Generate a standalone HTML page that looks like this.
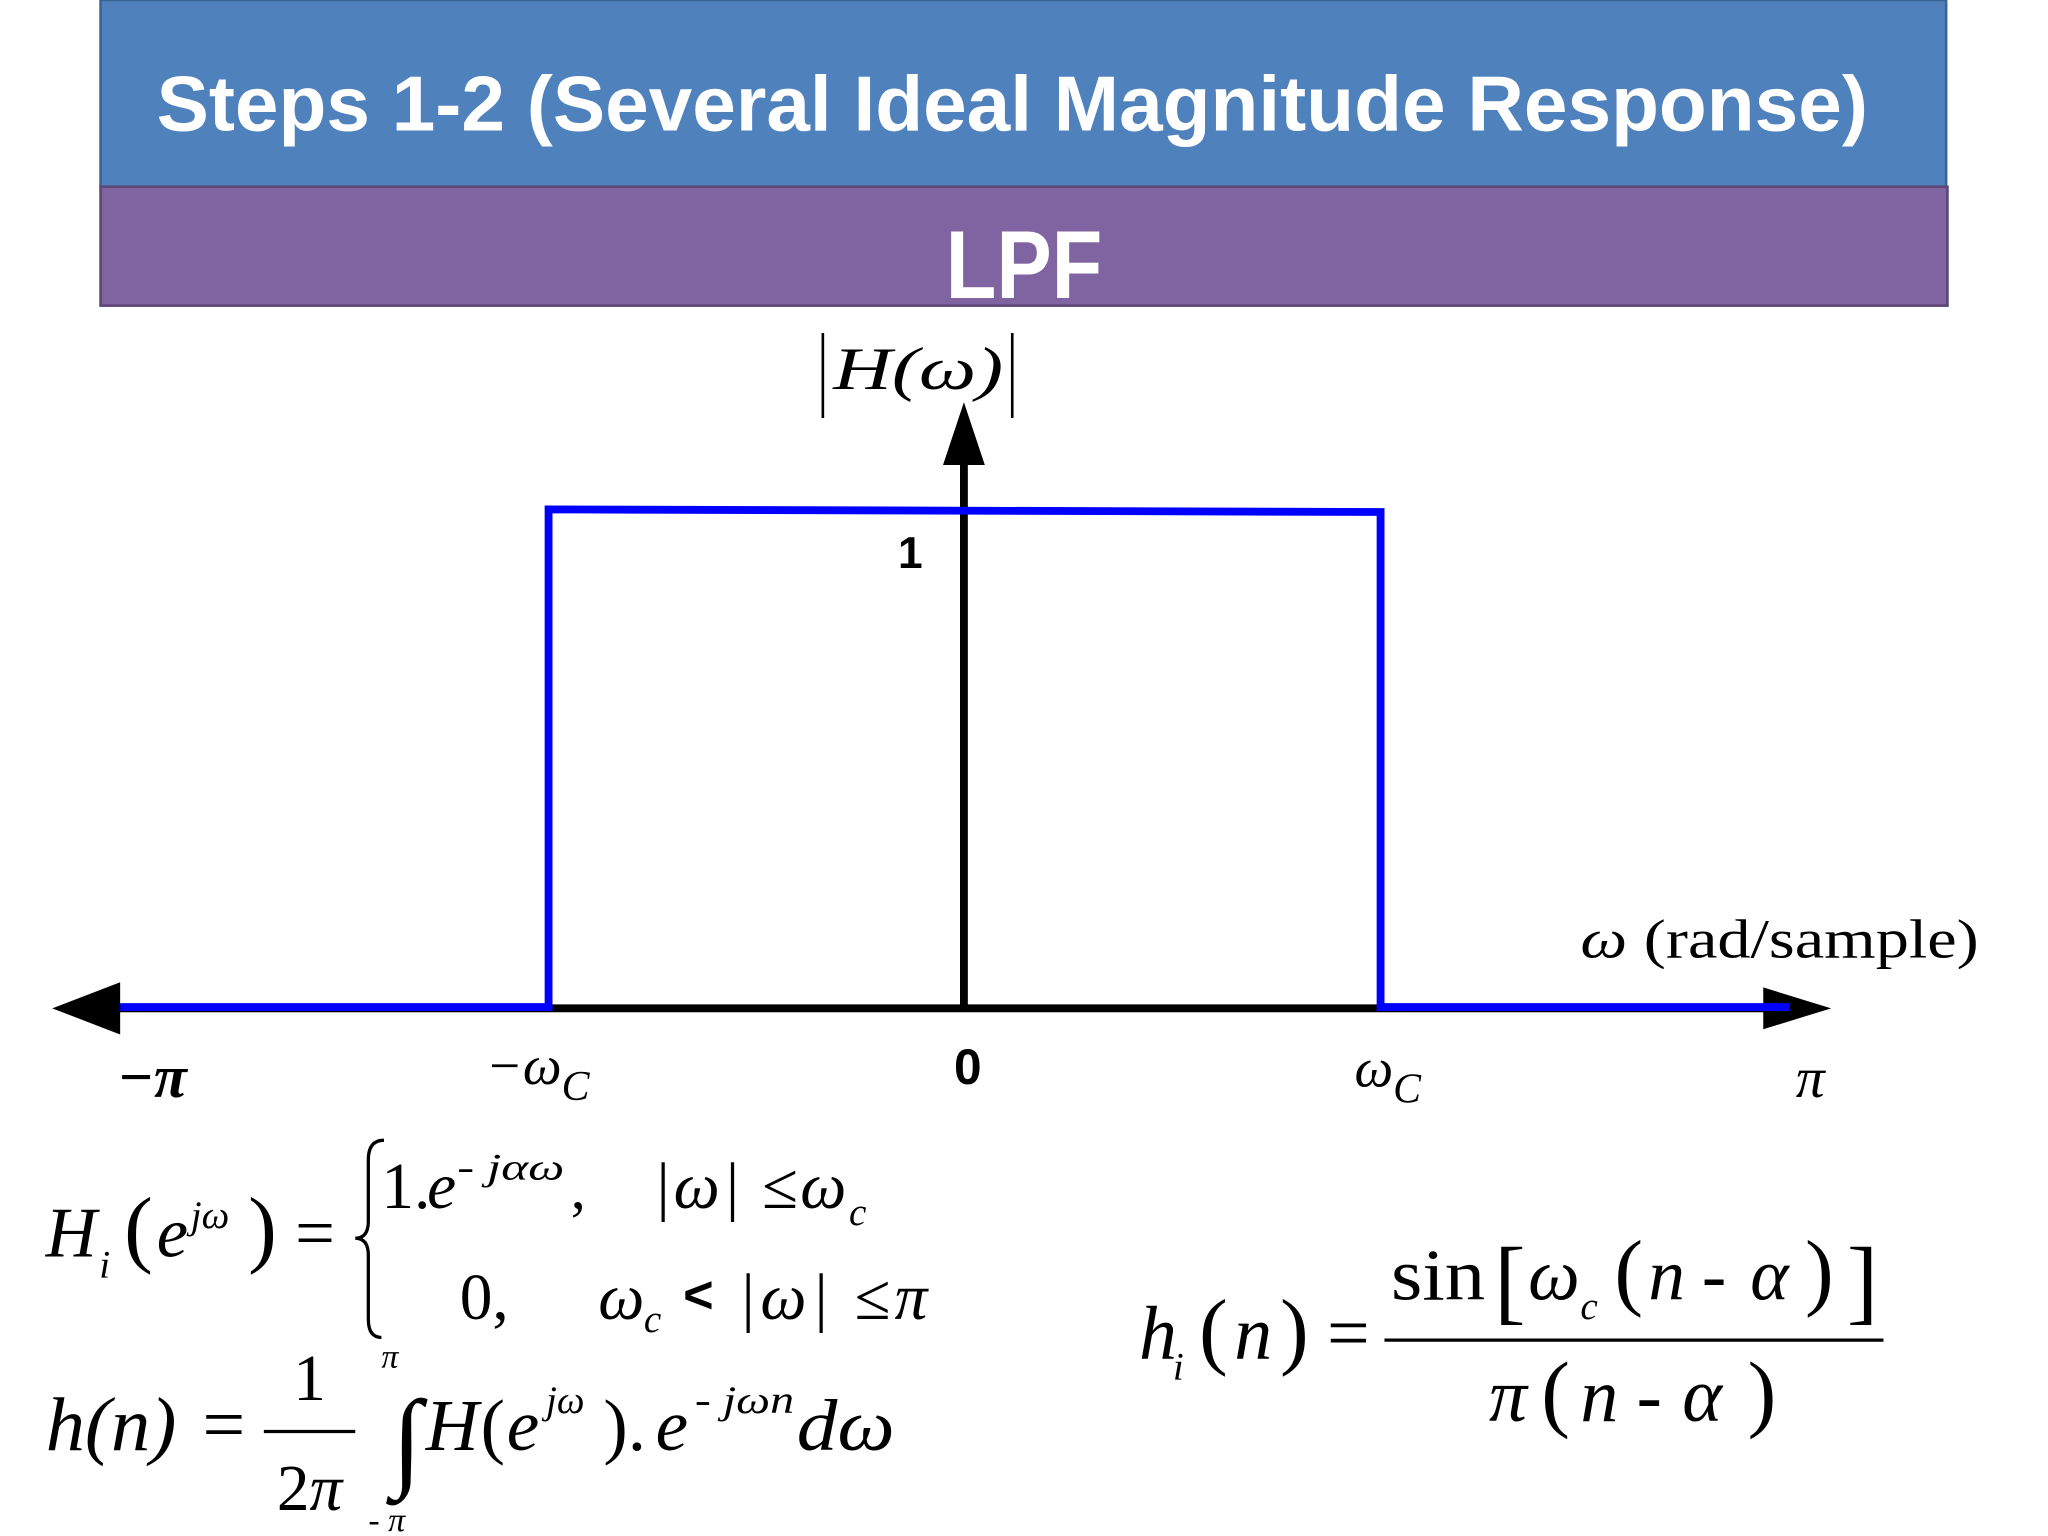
<!DOCTYPE html>
<html><head><meta charset="utf-8"><style>
html,body{margin:0;padding:0;background:#fff;}
svg{display:block;}
.m{font-family:"Liberation Serif",serif;font-style:italic;}
.r{font-family:"Liberation Serif",serif;}
</style></head><body>
<svg width="2048" height="1536" viewBox="0 0 1568 1176" xmlns="http://www.w3.org/2000/svg">
<defs><clipPath id="c"><rect x="77" y="143" width="1414" height="91"/></clipPath></defs>
<rect x="77" y="0" width="1413" height="143" fill="#4f81bd" stroke="#3a6496" stroke-width="2"/>
<text x="775" y="100" text-anchor="middle" fill="#fff" font-family="Liberation Sans,sans-serif" font-weight="bold" font-size="60">Steps 1-2 (Several Ideal Magnitude Response)</text>
<rect x="77" y="143" width="1414" height="91" fill="#8064a2" stroke="#5c4776" stroke-width="2"/>
<g clip-path="url(#c)"><text x="784" y="228" text-anchor="middle" fill="#fff" font-family="Liberation Sans,sans-serif" font-weight="bold" font-size="74" textLength="120" lengthAdjust="spacingAndGlyphs">LPF</text></g>

<line x1="80" y1="772" x2="1370" y2="772" stroke="#000" stroke-width="6"/>
<polygon points="40,772 92,752 92,792" fill="#000"/>
<polygon points="1402,772 1350,756 1350,788" fill="#000"/>
<line x1="738" y1="772" x2="738" y2="340" stroke="#000" stroke-width="6"/>
<polygon points="738,308 722,356 754,356" fill="#000"/>
<polyline points="92,771 420,771 420,390 1057,392 1057,771 1370,771" fill="none" stroke="#0000ff" stroke-width="6"/>

<line x1="630" y1="255" x2="630" y2="320" stroke="#000" stroke-width="2"/>
<line x1="775" y1="255" x2="775" y2="320" stroke="#000" stroke-width="2"/>
<text x="638" y="298" class="m" font-size="46" textLength="130" lengthAdjust="spacingAndGlyphs">H(ω)</text>
<text x="697" y="435" text-anchor="middle" font-family="Liberation Sans,sans-serif" font-weight="bold" font-size="34">1</text>
<text x="741" y="830" text-anchor="middle" font-family="Liberation Sans,sans-serif" font-weight="bold" font-size="38">0</text>
<text x="90" y="840" class="m" font-size="46" font-weight="bold">−π</text>
<text x="372" y="830" class="m" font-size="42">−ω<tspan font-size="32" dy="12">C</tspan></text>
<text x="1037" y="832" class="m" font-size="42">ω<tspan font-size="32" dy="12">C</tspan></text>
<text x="1375" y="840" class="m" font-size="44">π</text>
<text x="1210" y="733" class="r" font-size="42" textLength="305" lengthAdjust="spacingAndGlyphs"><tspan class="m">ω</tspan> (rad/sample)</text>

<text x="35" y="962" class="m" font-size="54">H</text>
<text x="76" y="978" class="m" font-size="30">i</text>
<text x="95" y="962" class="r" font-size="66">(</text>
<text x="120" y="962" class="m" font-size="54">e</text>
<text x="146" y="940" class="m" font-size="30">jω</text>
<text x="190" y="962" class="r" font-size="66">)</text>
<text x="226" y="962" class="r" font-size="54">=</text>
<path d="M294,873 Q282,873 282,888 L282,935 Q282,948 272,948 Q282,948 282,961 L282,1010 Q282,1024 292,1024" fill="none" stroke="#000" stroke-width="2.5"/>
<text x="292" y="925" class="r" font-size="50">1.</text>
<text x="327" y="925" class="m" font-size="50">e</text>
<text x="350" y="903" class="m" font-size="28" textLength="82" lengthAdjust="spacingAndGlyphs">- jαω</text>
<text x="437" y="925" class="r" font-size="46">,</text>
<text x="500" y="925" class="m" font-size="50" textLength="148" lengthAdjust="spacing">|ω| ≤ω</text>
<text x="650" y="938" class="m" font-size="30">c</text>
<text x="352" y="1010" class="r" font-size="50">0,</text>
<text x="458" y="1010" class="m" font-size="50">ω</text>
<text x="493" y="1020" class="m" font-size="30">c</text>
<text x="523" y="1005" font-family="Liberation Sans,sans-serif" font-weight="bold" font-size="40">&lt;</text>
<text x="565" y="1010" class="m" font-size="50" textLength="145" lengthAdjust="spacing">|ω| ≤π</text>

<text x="35" y="1110" class="m" font-size="58" textLength="100" lengthAdjust="spacingAndGlyphs">h(n)</text>
<text x="155" y="1110" class="r" font-size="58">=</text>
<text x="237" y="1072" class="r" font-size="50" text-anchor="middle">1</text>
<line x1="202" y1="1096" x2="272" y2="1096" stroke="#000" stroke-width="2.5"/>
<text x="237" y="1156" class="r" font-size="50" text-anchor="middle">2<tspan class="m">π</tspan></text>
<text x="292" y="1047" class="m" font-size="26">π</text>
<text x="300" y="1130" class="m" font-size="84">∫</text>
<text x="282" y="1172" class="m" font-size="26">- π</text>
<text x="326" y="1110" class="m" font-size="56">H</text>
<text x="368" y="1110" class="r" font-size="56">(</text>
<text x="388" y="1110" class="m" font-size="56">e</text>
<text x="418" y="1082" class="m" font-size="30">jω</text>
<text x="462" y="1110" class="r" font-size="56">).</text>
<text x="502" y="1110" class="m" font-size="56">e</text>
<text x="532" y="1082" class="m" font-size="30" textLength="76" lengthAdjust="spacingAndGlyphs">- jωn</text>
<text x="610" y="1110" class="m" font-size="56" textLength="75" lengthAdjust="spacingAndGlyphs">dω</text>

<text x="872" y="1040" class="m" font-size="58">h</text>
<text x="898" y="1056" class="m" font-size="30">i</text>
<text x="918" y="1040" class="r" font-size="66">(</text>
<text x="945" y="1040" class="m" font-size="58">n</text>
<text x="980" y="1040" class="r" font-size="66">)</text>
<text x="1016" y="1040" class="r" font-size="58">=</text>
<line x1="1060" y1="1026" x2="1442" y2="1026" stroke="#000" stroke-width="2.5"/>
<text x="1065" y="995" class="r" font-size="56" textLength="72" lengthAdjust="spacingAndGlyphs">sin</text>
<text x="1144" y="1005" class="r" font-size="72">[</text>
<text x="1170" y="995" class="m" font-size="56">ω</text>
<text x="1210" y="1010" class="m" font-size="30">c</text>
<text x="1236" y="995" class="r" font-size="66">(</text>
<text x="1262" y="995" class="m" font-size="56">n</text>
<text x="1303" y="995" class="r" font-size="56">-</text>
<text x="1340" y="995" class="m" font-size="56">α</text>
<text x="1382" y="995" class="r" font-size="66">)</text>
<text x="1414" y="1005" class="r" font-size="72">]</text>
<text x="1140" y="1088" class="m" font-size="58">π</text>
<text x="1180" y="1088" class="r" font-size="66">(</text>
<text x="1210" y="1088" class="m" font-size="58">n</text>
<text x="1253" y="1088" class="r" font-size="58">-</text>
<text x="1288" y="1088" class="m" font-size="58">α</text>
<text x="1338" y="1088" class="r" font-size="66">)</text>
</svg>
</body></html>
